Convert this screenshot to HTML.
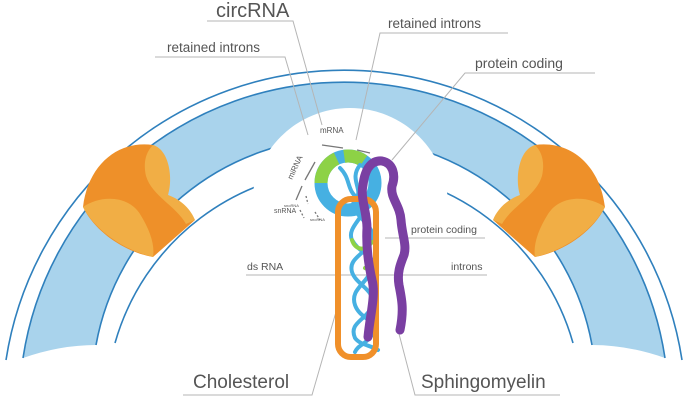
<!DOCTYPE html>
<html><head><meta charset="utf-8"><style>
html,body{margin:0;padding:0;background:#fff}
svg{display:block}
text{font-family:"Liberation Sans",sans-serif;fill:#555}
</style></head><body>
<svg width="685" height="400" viewBox="0 0 685 400" xmlns="http://www.w3.org/2000/svg">
<!-- band -->
<path d="M23,358 A324.7,324.7 0 0 1 665,358 Q628,345 592,345 A252,252 0 0 0 96,345 Q60,345 23,358Z" fill="#a9d3ec"/>
<path d="M23,358 A324.7,324.7 0 0 1 665,358" fill="none" stroke="#2f80bd" stroke-width="1.6"/>
<path d="M96,345 A252,252 0 0 1 592,345" fill="none" stroke="#2f80bd" stroke-width="1.6"/>
<path d="M6,360 A342,342 0 0 1 682,360" fill="none" stroke="#2f80bd" stroke-width="1.6"/>
<path d="M115,343 A238,238 0 0 1 573,343" fill="none" stroke="#2f80bd" stroke-width="1.6"/>
<!-- dome -->
<circle cx="350" cy="206" r="98" fill="#fff"/>
<rect x="252" y="206" width="196" height="60" fill="#fff"/>
<!-- proteins -->
<g id="prot">
<path d="M153,145 C118,140 88,165 83,207 C95,232 125,252 153,257 L195,220 C185,208 175,200 168,195 C170,180 165,155 153,145Z" fill="#ee9029"/>
<path d="M83,207 C100,195 128,195 140,214 C150,230 155,245 153,257 C123,250 95,230 83,207Z" fill="#f1ae45"/>
<path d="M153,145 C170,150 173,180 168,195 C182,200 191,210 195,220 L186,224 C176,206 152,196 146,176 C143,162 146,152 153,145Z" fill="#f1ae45"/>
</g>
<use href="#prot" transform="translate(688,0) scale(-1,1)"/>
<!-- leader lines -->
<g stroke="#b5b5b5" stroke-width="1" fill="none">
<path d="M207,21 L293,21 L322,125"/>
<path d="M155,57 L285,57 L308,135"/>
<path d="M508,33 L380,33 L356,140"/>
<path d="M595,73 L465,73 L392,160"/>
<path d="M385,238 L485,238"/>
<path d="M246,275 L487,275"/>
<path d="M183,395 L312,395 L338,305"/>
<path d="M560,395 L415,395 L398,330"/>
</g>
<!-- small dashes in dome -->
<g stroke="#777" stroke-width="1.3" fill="none">
<path d="M322,145 L343,148"/><path d="M357,150 L370,153"/>
<path d="M315,162 L305,180"/><path d="M302,186 L296,200"/>
<path d="M306,196 L308,204" stroke-dasharray="2,2"/>
<path d="M300,210 L304,218" stroke-dasharray="2,2"/>
<path d="M315,212 L320,220" stroke-dasharray="2,2"/>
</g>
<text x="320" y="133" font-size="8" fill="#777">mRNA</text>
<text x="292" y="180" font-size="8" fill="#777" transform="rotate(-65 292 180)">miRNA</text>
<text x="284" y="207" font-size="4" fill="#777">snoRNA</text>
<text x="274" y="213" font-size="7" fill="#777">snRNA</text>
<text x="310" y="221" font-size="4" fill="#777">snoRNA</text>
<!-- circRNA ring -->
<circle cx="348" cy="183" r="27" fill="none" stroke="#46b0e2" stroke-width="13"/>
<path d="M321,183 A27,27 0 0 1 336.6,158.5" fill="none" stroke="#8dd246" stroke-width="13"/>
<path d="M344.2,156.3 A27,27 0 0 1 363.5,160.9" fill="none" stroke="#8dd246" stroke-width="13"/>
<!-- helix -->
<g fill="none" stroke-width="4" stroke-linecap="round">
<path d="M340,168 C352,180 345,190 360,200 C375,212 345,225 352,240 C360,255 378,255 372,270 C365,285 350,290 355,305 C360,320 380,320 372,335 C365,345 358,345 355,352" stroke="#46b0e2"/>
<path d="M360,165 C348,180 365,190 355,200 C345,212 378,225 372,240 C365,255 348,258 352,272 C356,285 376,290 372,305 C368,320 348,322 355,338 C360,345 370,345 378,350" stroke="#46b0e2"/>
<path d="M352,240 C355,250 365,252 372,242" stroke="#8dd246"/>
<path d="M365,268 C375,272 378,282 373,288" stroke="#8dd246"/>
</g>
<!-- orange loop -->
<rect x="338" y="199" width="38" height="158" rx="13" fill="none" stroke="#f0902a" stroke-width="6"/>
<!-- purple -->
<path d="M368,337 C370,315 376,295 372,280 C368,262 366,245 367,228 C367,212 360,198 363,185 C365,168 372,160 382,161 C393,163 396,175 392,186 C390,198 400,205 401,220 C402,235 407,245 404,255 C400,265 397,273 399,285 C402,300 404,310 400,330" fill="none" stroke="#7a3fa2" stroke-width="9" stroke-linecap="round" stroke-linejoin="round"/>
<!-- labels -->
<text x="216" y="17" font-size="20">circRNA</text>
<text x="167" y="52" font-size="13.5">retained introns</text>
<text x="388" y="28" font-size="13.5">retained introns</text>
<text x="475" y="68" font-size="14">protein coding</text>
<text x="411" y="233" font-size="10.5">protein coding</text>
<text x="451" y="270" font-size="10.5">introns</text>
<text x="247" y="270" font-size="10.5">ds RNA</text>
<text x="193" y="388" font-size="19">Cholesterol</text>
<text x="421" y="388" font-size="19">Sphingomyelin</text>
</svg>
</body></html>
